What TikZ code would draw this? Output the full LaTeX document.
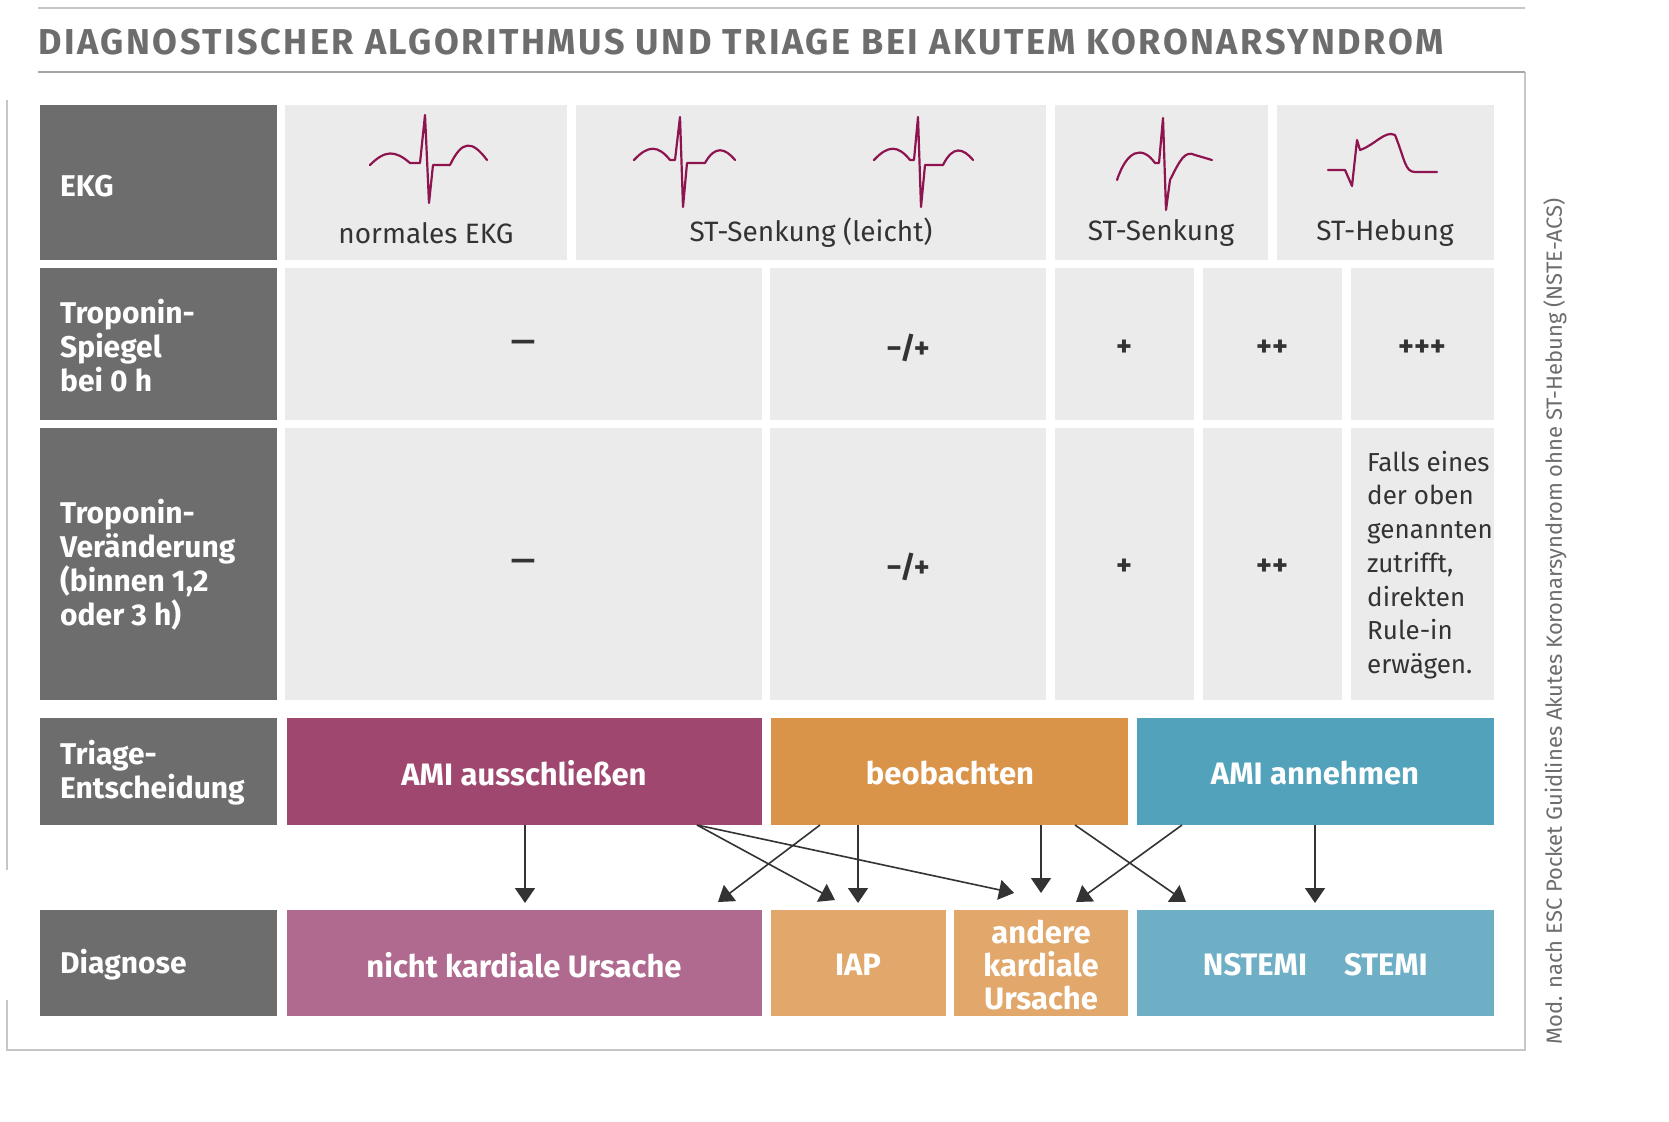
\documentclass[tikz,border=0pt]{standalone}
\usepackage{fontspec}
\setmainfont{Fira Sans}
\usetikzlibrary{arrows.meta}
\definecolor{lab}{HTML}{6D6D6D}
\definecolor{cell}{HTML}{EBEBEB}
\definecolor{ecg}{HTML}{8E1450}
\definecolor{tp}{HTML}{A0476F}
\definecolor{to}{HTML}{D9944A}
\definecolor{tt}{HTML}{52A2BB}
\definecolor{dp}{HTML}{B06A90}
\definecolor{do}{HTML}{E1A76B}
\definecolor{dt}{HTML}{6FAFC6}
\definecolor{txt}{HTML}{333333}
\tikzset{
 labbox/.style={text=white,font=\fontsize{30}{34}\selectfont\bfseries,align=left,inner sep=0pt},
 ctext/.style={text=txt,font=\fontsize{28}{34}\selectfont},
 sym/.style={text=txt,font=\fontsize{30}{34}\selectfont\bfseries},
 colbox/.style={text=white,font=\fontsize{31}{34}\selectfont\bfseries,align=center,inner sep=0pt},
 arr/.style={draw=txt,line width=1.6pt,-{Triangle[length=15pt,width=20pt]}},
 wave/.style={draw=ecg,line width=2.2pt,line join=round,line cap=round}
}
\begin{document}
\begin{tikzpicture}[x=1pt,y=-1pt]
\fill[white] (0,0) rectangle (1669,1121);
\draw[gray!45,line width=1.2pt] (7,100) -- (7,870);
\draw[gray!45,line width=1.2pt] (38,8) -- (1525,8);
\draw[gray!45,line width=1.2pt] (1525,72) -- (1525,1050) -- (7,1050) -- (7,1000);
\draw[gray!70,line width=1.2pt] (38,72) -- (1525,72);
\node[anchor=west,text=lab,inner sep=0pt,font=\fontsize{36}{40}\selectfont\bfseries\addfontfeature{LetterSpace=7}] (title) at (38,42) {DIAGNOSTISCHER ALGORITHMUS UND TRIAGE BEI AKUTEM KORONARSYNDROM};
% labels
\fill[lab] (40,105) rectangle (277,260);
\fill[lab] (40,268) rectangle (277,420);
\fill[lab] (40,428) rectangle (277,700);
\fill[lab] (40,718) rectangle (277,825);
\fill[lab] (40,910) rectangle (277,1016);
\node[labbox,anchor=west] (t1) at (60,186) {EKG};
\node[labbox,anchor=west] (t2) at (60,346) {Troponin-\\Spiegel\\bei 0 h};
\node[labbox,anchor=west] (t3) at (60,565) {Troponin-\\Veränderung\\(binnen 1,2\\oder 3 h)};
\node[labbox,anchor=west] (t4) at (60,773) {Triage-\\Entscheidung};
\node[labbox,anchor=west] (t5) at (60,965) {Diagnose};
% row1
\fill[cell] (285,105) rectangle (567,260);
\fill[cell] (576,105) rectangle (1046,260);
\fill[cell] (1055,105) rectangle (1268,260);
\fill[cell] (1277,105) rectangle (1494,260);
\node[ctext] (e1) at (426,233) {normales EKG};
\node[ctext] (e2) at (811,233) {ST-Senkung (leicht)};
\node[ctext] (e3) at (1161,233) {ST-Senkung};
\node[ctext] (e4) at (1385,233) {ST-Hebung};
% waves
\draw[wave] (370,165) .. controls (385,150) and (395,150) .. (410,163) -- (420,163) -- (425,115) -- (429,203) -- (433,165) -- (450,165) .. controls (462,140) and (472,140) .. (487,160);
\draw[wave] (634,160) .. controls (648,145) and (658,145) .. (670,160) -- (675,160) -- (680,117) -- (683,207) -- (687,163) -- (705,163) .. controls (715,145) and (725,148) .. (735,160);
\draw[wave] (874,160) .. controls (888,145) and (898,145) .. (910,160) -- (914,160) -- (918,117) -- (921,207) -- (925,165) -- (943,165) .. controls (953,145) and (963,148) .. (973,160);
\draw[wave] (1117,180) .. controls (1127,150) and (1142,145) .. (1155,163) -- (1159,163) -- (1163,118) -- (1166,210) -- (1170,180) .. controls (1180,160) and (1185,150) .. (1195,155) -- (1212,160);
\draw[wave] (1328,170) -- (1345,170) -- (1352,186) -- (1357,140) -- (1360,150) .. controls (1375,145) and (1385,130) .. (1395,135) .. controls (1405,160) and (1405,172) .. (1415,172) -- (1437,172);
% row2 row3
\foreach \ya/\yb in {268/420,428/700}{
 \fill[cell] (285,\ya) rectangle (762,\yb);
 \fill[cell] (770,\ya) rectangle (1046,\yb);
 \fill[cell] (1055,\ya) rectangle (1194,\yb);
 \fill[cell] (1203,\ya) rectangle (1342,\yb);
 \fill[cell] (1351,\ya) rectangle (1494,\yb);
}
\node[sym] (s1) at (523,346) {—};
\node[sym] (s2) at (908,348) {−/+};
\node[sym] (s3) at (1124,348) {+};
\node[sym] (s4) at (1272,348) {++};
\node[sym] (s5) at (1422,348) {+++};
\node[sym] (r1) at (523,565) {—};
\node[sym] (r2) at (908,567) {−/+};
\node[sym] (r3) at (1124,567) {+};
\node[sym] (r4) at (1272,567) {++};
\node[ctext,align=left,anchor=west,inner sep=0pt,font=\fontsize{26}{33.7}\selectfont] (r5) at (1367,565) {Falls eines\\der oben\\genannten\\zutrifft,\\direkten\\Rule-in\\erwägen.};
% triage
\fill[tp] (287,718) rectangle (762,825);
\fill[to] (771,718) rectangle (1128,825);
\fill[tt] (1137,718) rectangle (1494,825);
\node[colbox] (ta) at (524,773) {AMI ausschließen};
\node[colbox] (tb) at (950,773) {beobachten};
\node[colbox] (tc) at (1315,773) {AMI annehmen};
% diagnosis
\fill[dp] (287,910) rectangle (762,1016);
\fill[do] (771,910) rectangle (946,1016);
\fill[do] (954,910) rectangle (1128,1016);
\fill[dt] (1137,910) rectangle (1494,1016);
\node[colbox] (da) at (524,965) {nicht kardiale Ursache};
\node[colbox] (db) at (858,965) {IAP};
\node[colbox,font=\fontsize{31}{33}\selectfont\bfseries] (dc) at (1041,965) {andere\\kardiale\\Ursache};
\node[colbox] (dd) at (1255,965) {NSTEMI};
\node[colbox] (de) at (1386,965) {STEMI};
% arrows
\coordinate (o1) at (525,825); \coordinate (o2) at (697,825); \coordinate (o3) at (820,825);
\coordinate (o4) at (858,825); \coordinate (o5) at (1041,825); \coordinate (o6) at (1075,825);
\coordinate (o7) at (1182,825); \coordinate (o8) at (1315,825);
\coordinate (a1) at (525,903); \coordinate (a2) at (835,900); \coordinate (a3) at (1014,893);
\coordinate (a4) at (718,902); \coordinate (a5) at (858,903); \coordinate (a6) at (1041,893);
\coordinate (a7) at (1186,902); \coordinate (a8) at (1076,902); \coordinate (a9) at (1315,903);
\draw[arr] (o1) -- (a1);
\draw[arr] (o2) -- (a2);
\draw[arr] (o2) -- (a3);
\draw[arr] (o3) -- (a4);
\draw[arr] (o4) -- (a5);
\draw[arr] (o5) -- (a6);
\draw[arr] (o6) -- (a7);
\draw[arr] (o7) -- (a8);
\draw[arr] (o8) -- (a9);
\node[rotate=90,anchor=west,inner sep=0pt,text=lab,font=\fontsize{22}{25}\selectfont] (src) at (1555,1045) {Mod. nach ESC Pocket Guidlines Akutes Koronarsyndrom ohne ST-Hebung (NSTE-ACS)};
\pgfresetboundingbox
\useasboundingbox (0,0) rectangle (1669,1121);
\end{tikzpicture}
\end{document}
